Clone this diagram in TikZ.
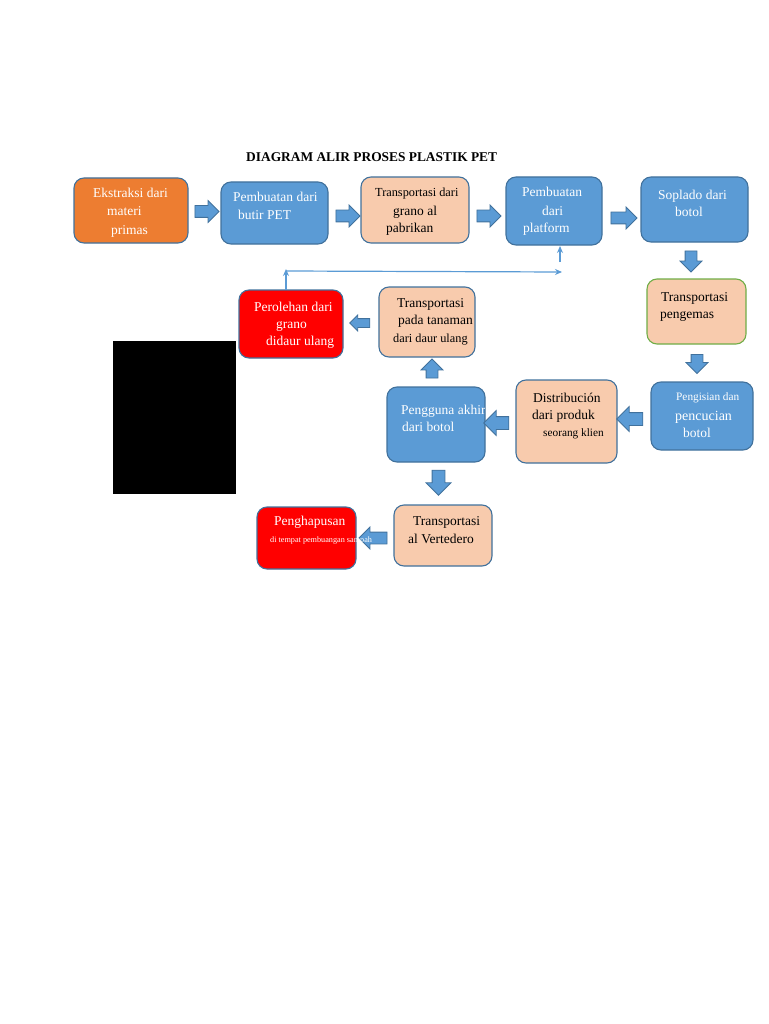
\documentclass[tikz,border=0pt]{standalone}
\usepackage{fontspec}
\setmainfont{Liberation Serif}
\usetikzlibrary{shapes.arrows,arrows.meta}
\definecolor{boxblue}{HTML}{5B9BD5}
\definecolor{bordc}{HTML}{41719C}
\definecolor{peach}{HTML}{F8CBAD}
\definecolor{orng}{HTML}{ED7D31}
\definecolor{redc}{HTML}{FF0000}
\definecolor{grn}{HTML}{70AD47}
\tikzset{
  boxs/.style={rounded corners=10, line width=1.1, draw=bordc},
  bluebox/.style={boxs, fill=boxblue},
  peachbox/.style={boxs, fill=peach},
  redbox/.style={boxs, fill=redc},
  orangebox/.style={boxs, fill=orng},
  wt/.style={inner sep=0, anchor=base west, text=white, font=\fontsize{13.5}{15}\selectfont},
  bt/.style={inner sep=0, anchor=base west, text=black, font=\fontsize{13.5}{15}\selectfont},
  barrow/.style={single arrow, draw=bordc, fill=boxblue, line width=0.8, inner sep=0, inner ysep=5.5,
    single arrow head extend=5, minimum height=24},
  thin/.style={draw=boxblue, line width=1.2, -{Stealth[length=7,width=6]}},
}
\begin{document}
\begin{tikzpicture}[x=1pt,y=-1pt]
\useasboundingbox (0,0) rectangle (768,1024);
% title
\node[inner sep=0, anchor=base west, font=\fontsize{13.4}{15}\selectfont\bfseries] (title) at (246,162) {DIAGRAM ALIR PROSES PLASTIK PET};
% boxes
\draw[orangebox] (74,178) rectangle (188,243);
\draw[bluebox] (221,182) rectangle (328,244);
\draw[peachbox] (361,177) rectangle (469,243);
\draw[bluebox] (506,177) rectangle (602,245);
\draw[bluebox] (641,177) rectangle (748,242);
\draw[boxs, draw=grn, fill=peach] (647,279) rectangle (746,344);
\draw[bluebox] (651,382) rectangle (753,450);
\draw[peachbox] (516,380) rectangle (617,463);
\draw[bluebox] (387,387) rectangle (485,462);
\draw[peachbox] (379,287) rectangle (475,357);
\draw[redbox] (239,290) rectangle (343,358);
\draw[peachbox] (394,505) rectangle (492,566);
\draw[redbox] (257,507) rectangle (356,569);
\fill[black] (113,341) rectangle (236,494);
% texts
\node[wt] (t1a) at (93,198) {Ekstraksi dari};
\node[wt] (t1b) at (107,216) {materi};
\node[wt] (t1c) at (111,234) {primas};
\node[wt] (t2a) at (233,202) {Pembuatan dari};
\node[wt] (t2b) at (238,220) {butir PET};
\node[bt, font=\fontsize{12.3}{14}\selectfont] (t3a) at (375,197) {Transportasi dari};
\node[bt] (t3b) at (393,215) {grano al};
\node[bt] (t3c) at (386,233) {pabrikan};
\node[wt] (t4a) at (522,197) {Pembuatan};
\node[wt] (t4b) at (542,215) {dari};
\node[wt] (t4c) at (523,233) {platform};
\node[wt] (t5a) at (658,200) {Soplado dari};
\node[wt] (t5b) at (675,217) {botol};
\node[bt] (t6a) at (661,301) {Transportasi};
\node[bt] (t6b) at (660,318) {pengemas};
\node[wt, font=\fontsize{11.3}{13}\selectfont] (t7a) at (676,400) {Pengisian dan};
\node[wt, font=\fontsize{14}{15}\selectfont] (t7b) at (675,420) {pencucian};
\node[wt] (t7c) at (683,437) {botol};
\node[bt] (t8a) at (533,402) {Distribución};
\node[bt] (t8b) at (532,419) {dari produk};
\node[bt, font=\fontsize{11.3}{13}\selectfont] (t8c) at (543,436) {seorang klien};
\begin{scope}
\clip (387,387) rectangle (484.5,462);
\node[wt] (t9a) at (401,414) {Pengguna akhir};
\end{scope}
\node[wt] (t9b) at (402,431) {dari botol};
\node[bt] (t10a) at (397,307) {Transportasi};
\node[bt] (t10b) at (398,324) {pada tanaman};
\node[bt, font=\fontsize{12.3}{14}\selectfont] (t10c) at (393,342) {dari daur ulang};
\node[wt] (t11a) at (254,311) {Perolehan dari};
\node[wt] (t11b) at (276,328) {grano};
\node[wt] (t11c) at (266,345) {didaur ulang};
\node[bt] (t13a) at (413,525) {Transportasi};
\node[bt] (t13b) at (408,543) {al Vertedero};
% block arrows
\node[barrow] (a1) at (204,211.5) {};
\node[barrow] (a2) at (345,216) {};
\node[barrow] (a3) at (486,216) {};
\node[barrow, minimum height=26] (a4) at (621,218) {};
\node[barrow, rotate=-90, minimum height=21] (a5) at (691,258.5) {};
\node[barrow, rotate=-90, minimum height=19] (a6) at (697,361) {};
\node[barrow, rotate=180, minimum height=26, inner ysep=6, single arrow head extend=6] (a7) at (633,419) {};
\node[barrow, rotate=180, minimum height=25, inner ysep=6, single arrow head extend=6] (a8) at (499.5,423) {};
\node[barrow, rotate=90, minimum height=19] (a9) at (432,371.5) {};
\node[barrow, rotate=180, minimum height=20, inner ysep=4, single arrow head extend=3.5] (a10) at (362,323) {};
\node[barrow, rotate=-90, minimum height=25, inner ysep=6, single arrow head extend=6] (a11) at (438.5,479.5) {};
\node[barrow, rotate=180, minimum height=28] (a12) at (376,538) {};
% penghapusan texts (drawn over arrow)
\node[wt] (t14a) at (274,525) {Penghapusan};
\node[wt, font=\fontsize{8.2}{9}\selectfont] (t14b) at (270,542) {di tempat pembuangan sampah};
% feedback lines
\coordinate (f0) at (286,290);
\coordinate (f1) at (286,269);
\coordinate (f2) at (286,271);
\coordinate (f3) at (562,272);
\coordinate (f4) at (560,262);
\coordinate (f5) at (560,246);
\draw[thin] (f0) -- (f1);
\draw[thin] (f2) -- (f3);
\draw[thin] (f4) -- (f5);
\end{tikzpicture}
\end{document}
